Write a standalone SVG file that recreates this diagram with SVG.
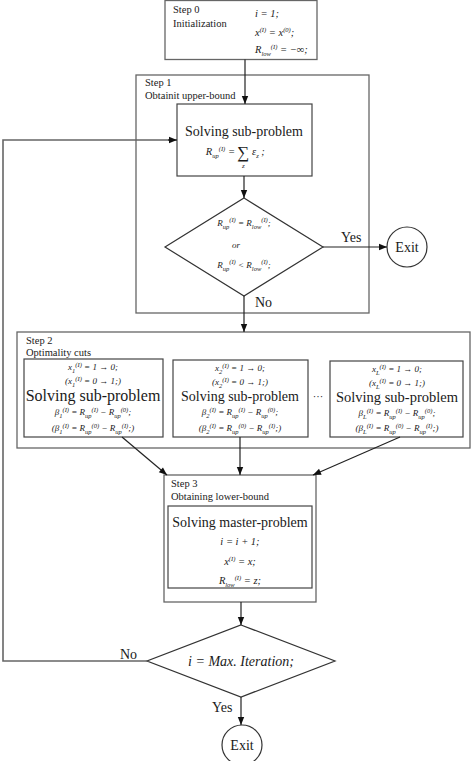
<svg xmlns="http://www.w3.org/2000/svg" width="474" height="761" viewBox="0 0 474 761" font-family="'Liberation Serif', 'Times New Roman', serif">
<defs>
<marker id="ah" viewBox="0 0 10 10" refX="10" refY="5" markerWidth="9" markerHeight="8" markerUnits="userSpaceOnUse" orient="auto"><path d="M0,1 L10,5 L0,9 z" fill="#111"/></marker>
<style>
text{font-family:'Liberation Serif','Times New Roman',serif;fill:#1a1a1a}
.lbl{font-size:10.5px}
.big{font-size:14px}
.m{font-style:italic;font-size:10.5px}
.ms{font-style:italic;font-size:9px}
.s{font-size:6.5px}
.outer{fill:none;stroke:#666;stroke-width:1.3}
.inner{fill:#fff;stroke:#444;stroke-width:1.2}
.shape{fill:#fff;stroke:#333;stroke-width:1.2}
.c{stroke:#222;stroke-width:1.2;fill:none;marker-end:url(#ah)}
.loop{stroke:#666;stroke-width:1.6;fill:none}
</style>
</defs>
<rect width="474" height="761" fill="#fff"/>

<g id="step0">
<rect class="outer" x="165" y="0.5" width="152" height="59"/>
<text class="lbl" x="173" y="13">Step 0</text>
<text class="lbl" x="173" y="27">Initialization</text>
<text class="m" x="255" y="17">i = 1;</text>
<text class="m" x="255" y="36">x<tspan class="s" dy="-4">(I)</tspan><tspan dy="4"> = x</tspan><tspan class="s" dy="-4">(0)</tspan><tspan dy="4">;</tspan></text>
<text class="m" x="255" y="53">R<tspan class="s" dy="3">low</tspan><tspan class="s" dy="-7">(I)</tspan><tspan dy="4"> = −∞;</tspan></text>
</g>

<g id="step1">
<rect class="outer" x="136" y="75" width="233" height="238"/>
<text class="lbl" x="145" y="86">Step 1</text>
<text class="lbl" x="145" y="99">Obtainit upper-bound</text>
</g>

<g id="subproblem">
<rect class="inner" x="177" y="104" width="135" height="72"/>
<text class="big" x="244" y="136" text-anchor="middle">Solving sub-problem</text>
<text class="m" x="235" y="155" text-anchor="end">R<tspan class="s" dy="3">up</tspan><tspan class="s" dy="-7">(I)</tspan><tspan dy="4"> =</tspan></text>
<text x="237" y="158" style="font-size:17px">∑</text>
<text class="ms" x="242" y="168" style="font-size:7px">z</text>
<text class="m" x="252" y="155">ε<tspan class="s" dy="3">z</tspan><tspan dy="-3"> ;</tspan></text>
</g>

<g id="decision1">
<polygon class="shape" points="244,198 323,247 244,296 165,247"/>
<text class="ms" x="244" y="226" text-anchor="middle">R<tspan class="s" dy="3">up</tspan><tspan class="s" dy="-7">(I)</tspan><tspan dy="4"> = R</tspan><tspan class="s" dy="3">low</tspan><tspan class="s" dy="-7">(I)</tspan><tspan dy="4">;</tspan></text>
<text class="ms" x="236" y="248" text-anchor="middle">or</text>
<text class="ms" x="244" y="268" text-anchor="middle">R<tspan class="s" dy="3">up</tspan><tspan class="s" dy="-7">(I)</tspan><tspan dy="4"> &lt; R</tspan><tspan class="s" dy="3">low</tspan><tspan class="s" dy="-7">(I)</tspan><tspan dy="4">;</tspan></text>
</g>

<g id="exit1">
<circle class="shape" cx="407" cy="247" r="20"/>
<text class="big" x="407" y="252" text-anchor="middle">Exit</text>
</g>

<g id="step2">
<rect class="outer" x="17" y="332" width="453" height="116"/>
<text class="lbl" x="26" y="344">Step 2</text>
<text class="lbl" x="26" y="356">Optimality cuts</text>
<text class="lbl" x="318" y="400" text-anchor="middle">···</text>
</g>

<g id="cut1">
<rect class="inner" x="24" y="359" width="139" height="78"/>
<text class="ms" x="93" y="370" text-anchor="middle">x<tspan class="s" dy="2.5">1</tspan><tspan class="s" dy="-6">(I)</tspan><tspan dy="3.5"> = 1 → 0;</tspan></text>
<text class="ms" x="93" y="384" text-anchor="middle">(x<tspan class="s" dy="2.5">1</tspan><tspan class="s" dy="-6">(I)</tspan><tspan dy="3.5"> = 0 → 1;)</tspan></text>
<text x="93" y="401" text-anchor="middle" style="font-size:16px">Solving sub-problem</text>
<text class="ms" x="93" y="415" text-anchor="middle">β<tspan class="s" dy="2.5">1</tspan><tspan class="s" dy="-6">(I)</tspan><tspan dy="3.5"> = R</tspan><tspan class="s" dy="2.5">up</tspan><tspan class="s" dy="-6">(I)</tspan><tspan dy="3.5"> − R</tspan><tspan class="s" dy="2.5">up</tspan><tspan class="s" dy="-6">(0)</tspan><tspan dy="3.5">;</tspan></text>
<text class="ms" x="93" y="431" text-anchor="middle">(β<tspan class="s" dy="2.5">1</tspan><tspan class="s" dy="-6">(I)</tspan><tspan dy="3.5"> = R</tspan><tspan class="s" dy="2.5">up</tspan><tspan class="s" dy="-6">(0)</tspan><tspan dy="3.5"> − R</tspan><tspan class="s" dy="2.5">up</tspan><tspan class="s" dy="-6">(I)</tspan><tspan dy="3.5">;)</tspan></text>
</g>

<g id="cut2">
<rect class="inner" x="173" y="360" width="135" height="77"/>
<text class="ms" x="240" y="371" text-anchor="middle">x<tspan class="s" dy="2.5">2</tspan><tspan class="s" dy="-6">(I)</tspan><tspan dy="3.5"> = 1 → 0;</tspan></text>
<text class="ms" x="240" y="385" text-anchor="middle">(x<tspan class="s" dy="2.5">2</tspan><tspan class="s" dy="-6">(I)</tspan><tspan dy="3.5"> = 0 → 1;)</tspan></text>
<text x="240" y="401" text-anchor="middle" style="font-size:14px">Solving sub-problem</text>
<text class="ms" x="240" y="415" text-anchor="middle">β<tspan class="s" dy="2.5">2</tspan><tspan class="s" dy="-6">(I)</tspan><tspan dy="3.5"> = R</tspan><tspan class="s" dy="2.5">up</tspan><tspan class="s" dy="-6">(I)</tspan><tspan dy="3.5"> − R</tspan><tspan class="s" dy="2.5">up</tspan><tspan class="s" dy="-6">(0)</tspan><tspan dy="3.5">;</tspan></text>
<text class="ms" x="240" y="431" text-anchor="middle">(β<tspan class="s" dy="2.5">2</tspan><tspan class="s" dy="-6">(I)</tspan><tspan dy="3.5"> = R</tspan><tspan class="s" dy="2.5">up</tspan><tspan class="s" dy="-6">(0)</tspan><tspan dy="3.5"> − R</tspan><tspan class="s" dy="2.5">up</tspan><tspan class="s" dy="-6">(I)</tspan><tspan dy="3.5">;)</tspan></text>
</g>

<g id="cutL">
<rect class="inner" x="330" y="361" width="133" height="76"/>
<text class="ms" x="397" y="372" text-anchor="middle">x<tspan class="s" dy="2.5">L</tspan><tspan class="s" dy="-6">(I)</tspan><tspan dy="3.5"> = 1 → 0;</tspan></text>
<text class="ms" x="397" y="386" text-anchor="middle">(x<tspan class="s" dy="2.5">L</tspan><tspan class="s" dy="-6">(I)</tspan><tspan dy="3.5"> = 0 → 1;)</tspan></text>
<text x="397" y="402" text-anchor="middle" style="font-size:14.5px">Solving sub-problem</text>
<text class="ms" x="397" y="416" text-anchor="middle">β<tspan class="s" dy="2.5">L</tspan><tspan class="s" dy="-6">(I)</tspan><tspan dy="3.5"> = R</tspan><tspan class="s" dy="2.5">up</tspan><tspan class="s" dy="-6">(I)</tspan><tspan dy="3.5"> − R</tspan><tspan class="s" dy="2.5">up</tspan><tspan class="s" dy="-6">(0)</tspan><tspan dy="3.5">;</tspan></text>
<text class="ms" x="397" y="431" text-anchor="middle">(β<tspan class="s" dy="2.5">L</tspan><tspan class="s" dy="-6">(I)</tspan><tspan dy="3.5"> = R</tspan><tspan class="s" dy="2.5">up</tspan><tspan class="s" dy="-6">(0)</tspan><tspan dy="3.5"> − R</tspan><tspan class="s" dy="2.5">up</tspan><tspan class="s" dy="-6">(I)</tspan><tspan dy="3.5">;)</tspan></text>
</g>

<g id="step3">
<rect class="outer" x="164" y="475" width="152" height="127"/>
<text class="lbl" x="171" y="487">Step 3</text>
<text class="lbl" x="171" y="500">Obtaining lower-bound</text>
</g>

<g id="master">
<rect class="inner" x="168" y="506" width="144" height="82"/>
<text class="big" x="240" y="527" text-anchor="middle">Solving master-problem</text>
<text class="m" x="240" y="545" text-anchor="middle">i = i + 1;</text>
<text class="m" x="240" y="565" text-anchor="middle">x<tspan class="s" dy="-4">(I)</tspan><tspan dy="4"> = x;</tspan></text>
<text class="m" x="240" y="584" text-anchor="middle">R<tspan class="s" dy="3">low</tspan><tspan class="s" dy="-7">(I)</tspan><tspan dy="4"> = z;</tspan></text>
</g>

<g id="decision2">
<polygon class="shape" points="241,625 335,661 241,697 147,661"/>
<text x="241" y="666" text-anchor="middle" style="font-size:14px;font-style:italic">i = Max. Iteration;</text>
</g>

<g id="exit2">
<circle class="shape" cx="242" cy="745" r="20"/>
<text class="big" x="242" y="750" text-anchor="middle">Exit</text>
</g>

<g id="connectors">
<line class="c" x1="245" y1="59.5" x2="245" y2="104"/>
<line class="c" x1="244" y1="176" x2="244" y2="198"/>
<line class="c" x1="323" y1="247" x2="387" y2="247"/>
<line class="c" x1="244" y1="296" x2="244" y2="332"/>
<line class="c" x1="122" y1="437" x2="167" y2="475"/>
<line class="c" x1="240" y1="437" x2="240" y2="475"/>
<line class="c" x1="400" y1="437" x2="313" y2="475"/>
<line class="c" x1="241" y1="602" x2="241" y2="625"/>
<line class="c" x1="241" y1="697" x2="241" y2="725"/>
<polyline class="loop" points="147,661 3,661 3,140 170,140"/>
<line class="c" x1="168" y1="140" x2="177" y2="140"/>
<text x="341" y="242" style="font-size:14px">Yes</text>
<text x="255" y="307" style="font-size:14px">No</text>
<text x="120" y="659" style="font-size:14px">No</text>
<text x="212" y="712" style="font-size:14px">Yes</text>
</g>
</svg>
